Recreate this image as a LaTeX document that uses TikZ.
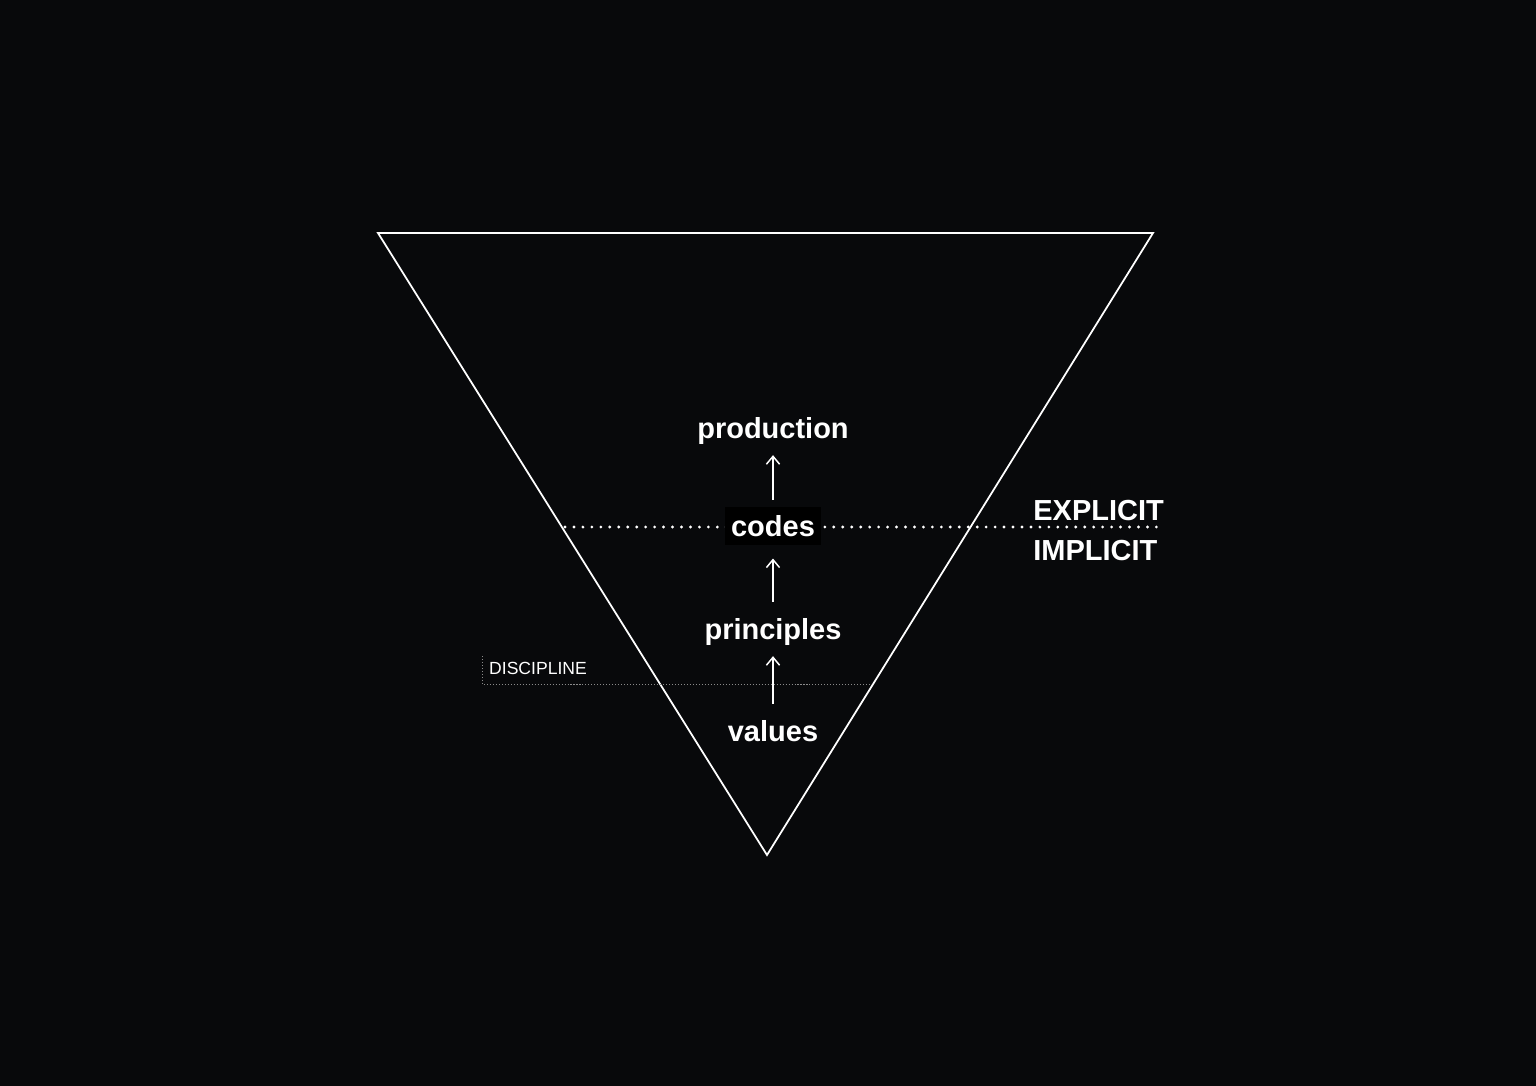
\documentclass[tikz,border=0pt]{standalone}
\usepackage{fontspec}
\setmainfont{Liberation Sans}
\usetikzlibrary{arrows.meta}
\definecolor{bg}{HTML}{08090B}
\definecolor{discgray}{HTML}{8A8A8A}
\begin{document}
\begin{tikzpicture}[
    x=0.02cm, y=-0.02cm,
    word/.style={
        text=white,
        font=\fontsize{16.5}{19}\selectfont\bfseries,
        inner sep=0pt,
        text height=13.7pt,
        text depth=1.8pt
    },
    arr/.style={
        -{Straight Barb[length=4.5pt, width=7.5pt]},
        white, line width=0.85pt,
        shorten <=7.5pt, shorten >=7.5pt
    }
]

% background and frame
\fill[bg] (0,0) rectangle (1536,1086);

\draw[white!92, line width=1pt, line join=miter] (378,233) -- (1153,233) -- (767,855) -- cycle;

% explicit / implicit divider
\draw[white, line width=1.8pt, line cap=round, dash pattern=on 0pt off 5.1pt] (565,527) -- (1162,527);

\node[word, anchor=west] (explicit) at (1033,510) {EXPLICIT};
\node[word, anchor=west] (implicit) at (1033,550) {IMPLICIT};

% discipline marker
\draw[discgray, line width=0.5pt, dash pattern=on 0.6pt off 1.1pt] (482,656) -- (482,684) -- (870,684);
\node[text=white!85, font=\fontsize{10}{12}\selectfont, anchor=west] (discipline) at (483,668) {DISCIPLINE};

% levels
\node[word] (production) at (773,428) {production};
\node[word, fill=black, inner xsep=3.5pt, minimum height=21.6pt] (codes) at (773,526) {codes};
\node[word] (principles) at (773,629) {principles};
\node[word] (values) at (773,731) {values};

\draw[arr, shorten <=4pt] (codes.north) -- (production.south);
\draw[arr] (principles.north) -- (codes.south);
\draw[arr] (values.north) -- (principles.south);

\end{tikzpicture}
\end{document}
